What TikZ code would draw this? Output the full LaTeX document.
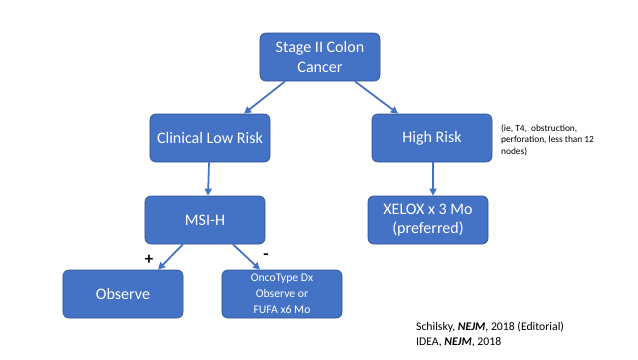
\documentclass[tikz,border=0pt]{standalone}
\usepackage{fontspec}
\setmainfont{Carlito}
\usetikzlibrary{arrows.meta,positioning,calc}
\definecolor{ccFill}{HTML}{4472C4}
\definecolor{ccEdge}{HTML}{2F528F}
\definecolor{ccLine}{HTML}{4472C4}
\definecolor{ccInk}{HTML}{000000}
\tikzset{
  % Blue decision box
  bbox/.style={rectangle,rounded corners=5pt,
    minimum width=3.6cm,minimum height=1.44cm,
    align=center,draw=ccEdge,line width=0.6pt,fill=ccFill,
    font=\fontsize{13.7}{16.3}\selectfont,text=white},
  % Arrows
  arr/.style={-{Triangle[length=6pt,width=6pt]},line width=1.5pt,color=ccLine},
  lbl/.style={font=\fontsize{8}{10}\selectfont,text=ccInk,align=left},
  sgn/.style={font=\bfseries\Large,text=ccInk},
}
\begin{document}
\begin{tikzpicture}[x=0.03cm,y=-0.03cm]
  \useasboundingbox (0,0) rectangle (638,359);
  %% --- TOP ---
  \node[bbox] (stage) at (320,57) {Stage II Colon\\Cancer};

  %% --- RISK LEVEL ---
  \node[bbox] (low) at (210,138) {Clinical Low Risk};
  \node[bbox] (high) at (432,138) {High Risk};
  \node[lbl,anchor=west] (why) at (497,140)
    {(ie, T4,~~obstruction,\\perforation, less than 12\\nodes)};

  %% --- SECOND LEVEL ---
  \node[bbox] (msi) at (205,220) {MSI-H};
  \node[bbox] (xelox) at (428,220) {XELOX x 3 Mo\\(preferred)};

  %% --- OUTCOMES ---
  \node[bbox] (obs) at (123,294) {Observe};
  \node[bbox,font=\fontsize{10}{13.5}\selectfont] (onco) at (282,294)
    {OncoType Dx\\Observe or\\FUFA x6 Mo};

  \node[sgn] (plus) at (149,260) {+};
  \node[sgn] (minus) at (266,257) {-};

  % References
  \node[anchor=west,align=left,font=\fontsize{10}{12.8}\selectfont] (ref) at (412,334)
    {Schilsky, \textbf{\textit{NEJM}}, 2018 (Editorial)\\IDEA, \textbf{\textit{NEJM}}, 2018};

  \draw[arr] ($(stage.south)+(-35,0)$) -- ($(low.north)+(34,0)$);
  \draw[arr] ($(stage.south)+(35,0)$) -- ($(high.north)+(-34,0)$);
  \draw[arr] ($(low.south)+(-1,0)$) -- ($(msi.north)+(3,0)$);
  \draw[arr] ($(high.south)+(1,0)$) -- ($(xelox.north)+(5,0)$);
  \draw[arr] ($(msi.south)+(-22,0)$) -- ($(obs.north)+(35,0)$);
  \draw[arr] ($(msi.south)+(28,0)$) -- ($(onco.north)+(-22,0)$);
\end{tikzpicture}
\end{document}
